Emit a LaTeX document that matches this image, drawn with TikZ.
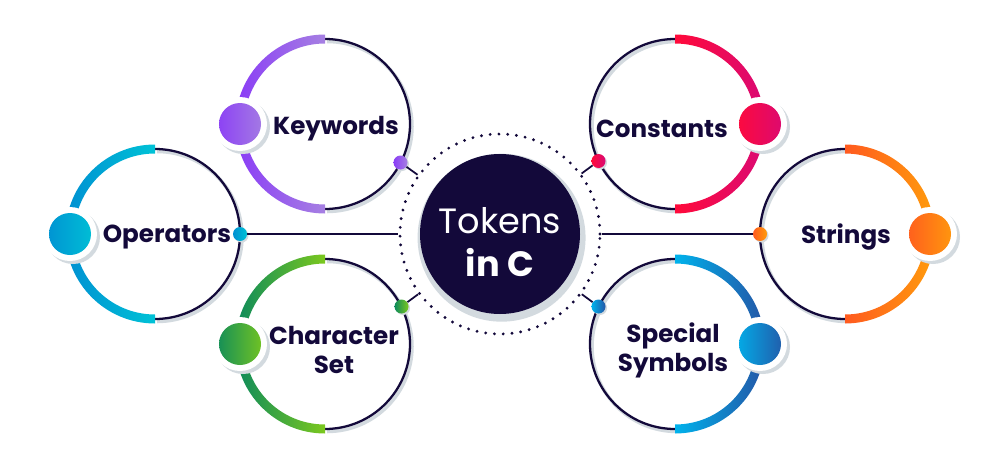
\documentclass[tikz,border=0pt]{standalone}
\usepackage{fontspec}
\setmainfont{Poppins}
\usetikzlibrary{positioning,shadows}

\definecolor{navy}{HTML}{13093A}
\definecolor{greyshade}{HTML}{D3DADF}
\definecolor{kwA}{HTML}{8A3CF6}
\definecolor{kwB}{HTML}{A680E2}
\definecolor{opA}{HTML}{0090D2}
\definecolor{opB}{HTML}{00C2D6}
\definecolor{chA}{HTML}{0C8A5C}
\definecolor{chB}{HTML}{7BC81E}
\definecolor{coA}{HTML}{FF0A3A}
\definecolor{coB}{HTML}{DA0A74}
\definecolor{stA}{HTML}{FF5A1F}
\definecolor{stB}{HTML}{FF9C0C}
\definecolor{spA}{HTML}{00B2EC}
\definecolor{spB}{HTML}{2456A6}

\begin{document}
\begin{tikzpicture}[
	halfring/.style={navy,line width=1.3pt},
	ringshadow/.style={greyshade,line width=2pt},
	bigdot/.style 2 args={circle,fill=white,inner sep=0,minimum size=1.08cm,
		drop shadow={shadow xshift=0.06cm,shadow yshift=-0.06cm,fill=greyshade,opacity=1},
		path picture={\shade[left color=#1,right color=#2] (path picture bounding box.center) circle (0.42cm);}},
	smalldot/.style 2 args={circle,inner sep=0,minimum size=0.28cm,left color=#1,right color=#2,
		drop shadow={shadow xshift=0.03cm,shadow yshift=-0.03cm,fill=greyshade,opacity=1}},
	tag/.style={font=\bfseries\fontsize{14}{16.5}\selectfont,text=navy,align=center},
	link/.style={navy,line width=1pt}]

	\useasboundingbox (0,0) rectangle (20,9.4);

	%centre
	\node[circle,minimum size=4cm,draw=navy,line width=1.8pt,dash pattern=on 0pt off 5pt,line cap=round] (dots) at (10,4.72) {};
	\node[circle,fill=navy,minimum size=3.2cm,
		drop shadow={shadow xshift=0.03cm,shadow yshift=-0.07cm,shadow scale=1.05,fill=greyshade,opacity=1}] (tok) at (10,4.72) {};
	\node[text=white,align=center,font=\fontsize{20}{24}\selectfont] (toktxt) at (10,4.56) {Tokens\\\textbf{in C}};

	%circle centres
	\coordinate (kw) at (6.5,6.92);
	\coordinate (op) at (3.1,4.72);
	\coordinate (ch) at (6.5,2.52);
	\coordinate (co) at (13.5,6.92);
	\coordinate (st) at (16.9,4.72);
	\coordinate (sp) at (13.5,2.52);

	%left rings
	\draw[ringshadow] ([shift={(0.04,-0.05)}]kw) ++(90:1.7) arc[start angle=90,end angle=-90,radius=1.7];
	\draw[halfring] (kw) ++(90:1.7) arc[start angle=90,end angle=-90,radius=1.7];
	\shade[left color=kwA,right color=kwB] (kw) ++(90:1.79) arc[start angle=90,end angle=270,radius=1.79] -- ++(0,0.18) arc[start angle=270,end angle=90,radius=1.61] -- cycle;

	\draw[ringshadow] ([shift={(0.04,-0.05)}]op) ++(90:1.7) arc[start angle=90,end angle=-90,radius=1.7];
	\draw[halfring] (op) ++(90:1.7) arc[start angle=90,end angle=-90,radius=1.7];
	\shade[left color=opA,right color=opB] (op) ++(90:1.79) arc[start angle=90,end angle=270,radius=1.79] -- ++(0,0.18) arc[start angle=270,end angle=90,radius=1.61] -- cycle;

	\draw[ringshadow] ([shift={(0.04,-0.05)}]ch) ++(90:1.7) arc[start angle=90,end angle=-90,radius=1.7];
	\draw[halfring] (ch) ++(90:1.7) arc[start angle=90,end angle=-90,radius=1.7];
	\shade[left color=chA,right color=chB] (ch) ++(90:1.79) arc[start angle=90,end angle=270,radius=1.79] -- ++(0,0.18) arc[start angle=270,end angle=90,radius=1.61] -- cycle;

	%right rings
	\draw[ringshadow] ([shift={(0.04,-0.05)}]co) ++(90:1.7) arc[start angle=90,end angle=270,radius=1.7];
	\draw[halfring] (co) ++(90:1.7) arc[start angle=90,end angle=270,radius=1.7];
	\shade[left color=coA,right color=coB] (co) ++(90:1.79) arc[start angle=90,end angle=-90,radius=1.79] -- ++(0,0.18) arc[start angle=-90,end angle=90,radius=1.61] -- cycle;

	\draw[ringshadow] ([shift={(0.04,-0.05)}]st) ++(90:1.7) arc[start angle=90,end angle=270,radius=1.7];
	\draw[halfring] (st) ++(90:1.7) arc[start angle=90,end angle=270,radius=1.7];
	\shade[left color=stA,right color=stB] (st) ++(90:1.79) arc[start angle=90,end angle=-90,radius=1.79] -- ++(0,0.18) arc[start angle=-90,end angle=90,radius=1.61] -- cycle;

	\draw[ringshadow] ([shift={(0.04,-0.05)}]sp) ++(90:1.7) arc[start angle=90,end angle=270,radius=1.7];
	\draw[halfring] (sp) ++(90:1.7) arc[start angle=90,end angle=270,radius=1.7];
	\shade[left color=spA,right color=spB] (sp) ++(90:1.79) arc[start angle=90,end angle=-90,radius=1.79] -- ++(0,0.18) arc[start angle=-90,end angle=90,radius=1.61] -- cycle;

	%big dots
	\node[bigdot={kwA}{kwB}] (kwbig) at (4.8,6.92) {};
	\node[bigdot={opA}{opB}] (opbig) at (1.4,4.72) {};
	\node[bigdot={chA}{chB}] (chbig) at (4.8,2.52) {};
	\node[bigdot={coA}{coB}] (cobig) at (15.2,6.92) {};
	\node[bigdot={stA}{stB}] (stbig) at (18.6,4.72) {};
	\node[bigdot={spA}{spB}] (spbig) at (15.2,2.52) {};

	%small dots
	\node[smalldot={kwA}{kwB}] (kwdot) at (8.01,6.15) {};
	\node[smalldot={opA}{opB}] (opdot) at (4.8,4.72) {};
	\node[smalldot={chA}{chB}] (chdot) at (8.03,3.27) {};
	\node[smalldot={coA}{coB}] (codot) at (11.97,6.18) {};
	\node[smalldot={stA}{stB}] (stdot) at (15.2,4.72) {};
	\node[smalldot={spA}{spB}] (spdot) at (11.97,3.27) {};

	%links
	\draw[link] (kwdot) -- (dots);
	\draw[link] (opdot) -- (dots);
	\draw[link] (chdot) -- (dots);
	\draw[link] (codot) -- (dots);
	\draw[link] (stdot) -- (dots);
	\draw[link] (spdot) -- (dots);

	%labels
	\node[tag] (kwtxt) at (6.72,6.82) {Keywords};
	\node[tag] (optxt) at (3.34,4.65) {Operators};
	\node[tag] (chtxt) at (6.68,2.4) {Character\\Set};
	\node[tag] (cotxt) at (13.24,6.82) {Constants};
	\node[tag] (sttxt) at (16.92,4.65) {Strings};
	\node[tag] (sptxt) at (13.46,2.4) {Special\\Symbols};

\end{tikzpicture}
\end{document}
